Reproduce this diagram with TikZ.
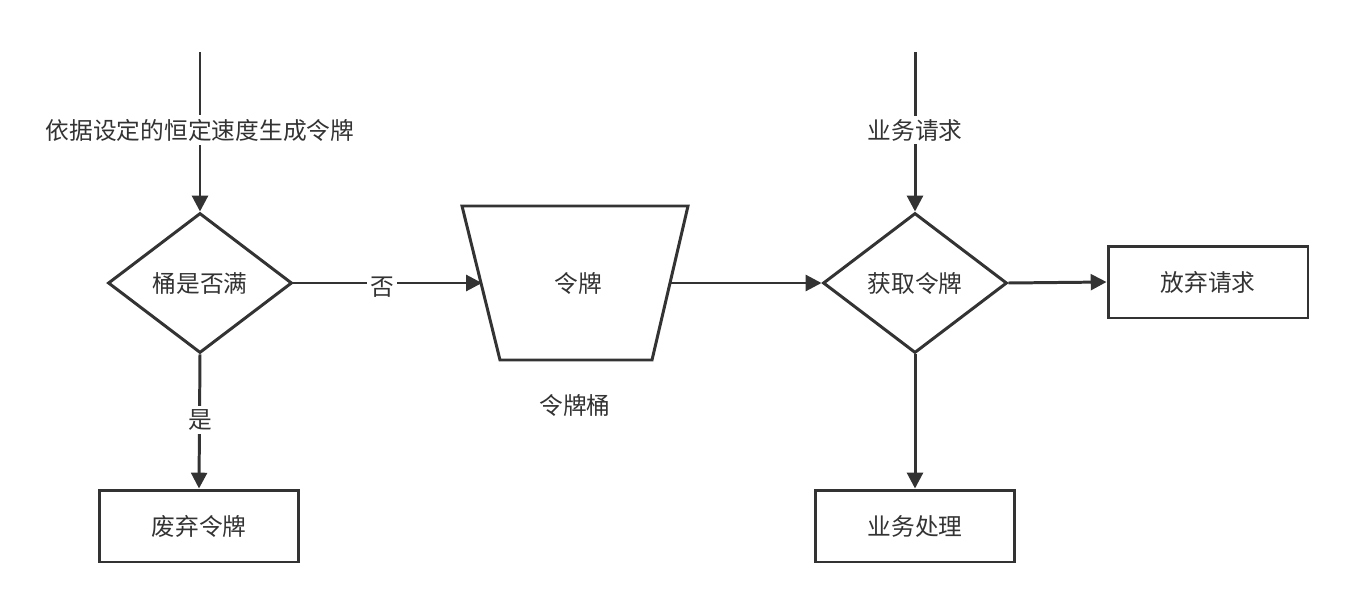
\documentclass[tikz,border=0pt]{standalone}
\usepackage{fontspec}
\setmainfont{Noto Sans CJK SC}
\usetikzlibrary{shapes.geometric,arrows.meta}
\definecolor{ink}{HTML}{333333}
\tikzset{
  flow/.style={draw=ink,line width=1.7pt,-{Triangle[length=9pt,width=9pt]}},
  plain/.style={draw=ink,line width=1.7pt},
  decide/.style={diamond,draw=ink,line width=1.7pt,aspect=1.31,minimum width=3.68cm,minimum height=2.8cm,inner sep=0pt},
  box/.style={rectangle,draw=ink,line width=1.7pt,minimum width=4cm,minimum height=1.44cm},
  lbl/.style={fill=white,inner sep=2pt,text=ink}
}
\begin{document}
\begin{tikzpicture}[x=0.02cm,y=-0.02cm,font=\fontsize{13.5}{16}\selectfont,text=ink]
    \useasboundingbox (0,0) rectangle (1359,612);
    % left branch
    \coordinate (srcA) at (200,52);
    \node[decide] (full) at (200,283) {桶是否满};
    \node[box] (drop) at (199,526) {废弃令牌};
    \draw[flow] (srcA) -- (full.north);
    \node[lbl] (gen) at (200,130) {依据设定的恒定速度生成令牌};
    \draw[flow] (full.south) -- (drop.north);
    \node[lbl] at (200,420) {是};
    % bucket
    \draw[plain] (462,206) -- (688,206) -- (652,360) -- (500,360) -- cycle;
    \coordinate (bucketL) at (482,283);
    \coordinate (bucketR) at (671,283);
    \node (token) at (578,283) {令牌};
    \node (bucket) at (575,405) {令牌桶};
    \draw[flow] (full.east) -- (bucketL);
    \node[lbl] at (382,287) {否};
    % right branch
    \coordinate (srcB) at (915,52);
    \node[decide] (get) at (915,283) {获取令牌};
    \node[box] (reject) at (1208,282) {放弃请求};
    \node[box] (serve) at (915,526) {业务处理};
    \draw[flow] (srcB) -- (get.north);
    \node[lbl] (req) at (915,130) {业务请求};
    \draw[flow] (bucketR) -- (get.west);
    \draw[flow] (get.east) -- (reject.west);
    \draw[flow] (get.south) -- (serve.north);
\end{tikzpicture}
\end{document}
